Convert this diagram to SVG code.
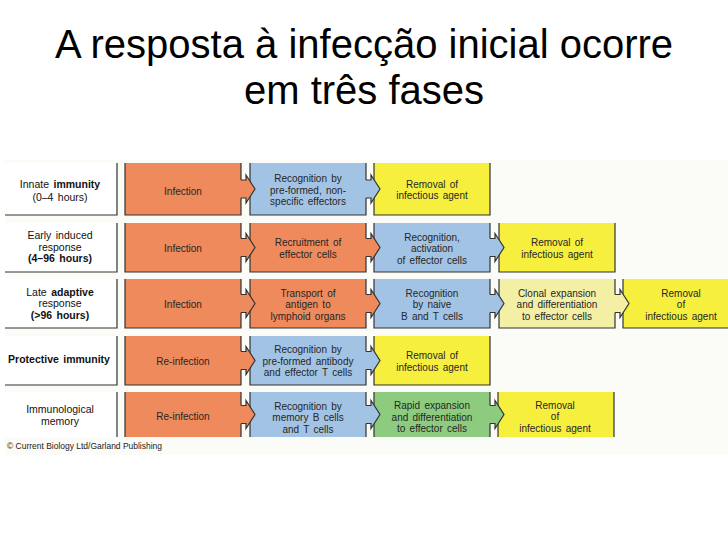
<svg xmlns="http://www.w3.org/2000/svg" width="728" height="546" viewBox="0 0 728 546">
<style>
.title{font-family:"Liberation Sans",Arial,sans-serif;font-size:40px;fill:#000;text-anchor:middle}
.t{font-family:"Liberation Sans",Arial,sans-serif;font-size:10px;fill:#262626;text-anchor:middle;word-spacing:1.5px}
.lb{font-family:"Liberation Sans",Arial,sans-serif;font-size:10.5px;fill:#111;text-anchor:middle;word-spacing:1.5px}
.b{font-weight:bold}
.edge{fill:none;stroke:#333;stroke-width:1.2}
.or{fill:#EF8A5C}.bl{fill:#A2C3E3}.ye{fill:#F6EF3E}.ly{fill:#F3F0A6}.gr{fill:#8DCB7E}.wh{fill:#fff}
.cr{font-family:"Liberation Sans",Arial,sans-serif;font-size:9px;fill:#222}
</style>
<defs>
<g id="arr">
<polygon points="-1.5,-9 5,-9 5,-14 14,0 5,14 5,9 -1.5,9" fill="currentColor"/>
<polyline points="0,-9 5,-9 5,-14 14,0 5,14 5,9 0,9" fill="none" stroke="#333" stroke-width="1.2" stroke-linejoin="miter"/>
</g>
</defs>
<rect width="728" height="546" fill="#fff"/>
<text class="title" x="364" y="58">A resposta à infecção inicial ocorre</text>
<text class="title" x="364" y="104">em três fases</text>
<rect x="5" y="160" width="723" height="295" fill="#fbfbf8"/>

<g id="nodes">
<!-- Row 1 -->
<g id="r1-label"><rect class="wh" x="5" y="163" width="112" height="52"/><path class="edge" d="M5 215H117V163"/>
<text class="lb" x="60" y="188">Innate <tspan class="b">immunity</tspan></text><text class="lb" x="60" y="200.5">(0–4 hours)</text></g>
<g id="r1-c3"><rect class="ye" x="374" y="163" width="116" height="52"/><path class="edge" d="M374 163V215H490V163"/>
<text class="t" x="432" y="187.75">Removal of</text><text class="t" x="432" y="199.25">infectious agent</text></g>
<g id="r1-c2"><rect class="bl" x="250" y="163" width="116" height="52"/><path class="edge" d="M250 163V215H366V163"/>
<text class="t" x="308" y="182">Recognition by</text><text class="t" x="308" y="193.5">pre-formed, non-</text><text class="t" x="308" y="205">specific effectors</text></g>
<g id="r1-c1"><rect class="or" x="125" y="163" width="116" height="52"/><path class="edge" d="M125 163V215H241V163"/>
<text class="t" x="183" y="194.5">Infection</text></g>

<!-- Row 2 -->
<g id="r2-label"><rect class="wh" x="5" y="223" width="112" height="49"/><path class="edge" d="M5 272H117V223"/>
<text class="lb" x="60" y="238.8">Early induced</text><text class="lb" x="60" y="250.5">response</text><text class="lb b" x="60" y="261.5">(4–96 hours)</text></g>
<g id="r2-c4"><rect class="ye" x="499" y="223" width="116" height="49"/><path class="edge" d="M499 223V272H615V223"/>
<text class="t" x="557" y="246.25">Removal of</text><text class="t" x="557" y="257.75">infectious agent</text></g>
<g id="r2-c3"><rect class="bl" x="374" y="223" width="116" height="49"/><path class="edge" d="M374 223V272H490V223"/>
<text class="t" x="432" y="240.5">Recognition,</text><text class="t" x="432" y="252">activation</text><text class="t" x="432" y="263.5">of effector cells</text></g>
<g id="r2-c2"><rect class="or" x="250" y="223" width="116" height="49"/><path class="edge" d="M250 223V272H366V223"/>
<text class="t" x="308" y="246.25">Recruitment of</text><text class="t" x="308" y="257.75">effector cells</text></g>
<g id="r2-c1"><rect class="or" x="125" y="223" width="116" height="49"/><path class="edge" d="M125 223V272H241V223"/>
<text class="t" x="183" y="252">Infection</text></g>

<!-- Row 3 -->
<g id="r3-label"><rect class="wh" x="5" y="279" width="112" height="49"/><path class="edge" d="M5 328H117V279"/>
<text class="lb" x="60" y="295.5">Late <tspan class="b">adaptive</tspan></text><text class="lb" x="60" y="307.3">response</text><text class="lb b" x="60" y="319">(&gt;96 hours)</text></g>
<g id="r3-c5"><rect class="ye" x="623" y="279" width="105" height="49"/><path class="edge" d="M623 279V328H728"/>
<text class="t" x="681" y="296.5">Removal</text><text class="t" x="681" y="308">of</text><text class="t" x="681" y="319.5">infectious agent</text></g>
<g id="r3-c4"><rect class="ly" x="499" y="279" width="116" height="49"/><path class="edge" d="M499 279V328H615V279"/>
<text class="t" x="557" y="296.5">Clonal expansion</text><text class="t" x="557" y="308">and differentiation</text><text class="t" x="557" y="319.5">to effector cells</text></g>
<g id="r3-c3"><rect class="bl" x="374" y="279" width="116" height="49"/><path class="edge" d="M374 279V328H490V279"/>
<text class="t" x="432" y="296.5">Recognition</text><text class="t" x="432" y="308">by naive</text><text class="t" x="432" y="319.5">B and T cells</text></g>
<g id="r3-c2"><rect class="or" x="250" y="279" width="116" height="49"/><path class="edge" d="M250 279V328H366V279"/>
<text class="t" x="308" y="296.5">Transport of</text><text class="t" x="308" y="308">antigen to</text><text class="t" x="308" y="319.5">lymphoid organs</text></g>
<g id="r3-c1"><rect class="or" x="125" y="279" width="116" height="49"/><path class="edge" d="M125 279V328H241V279"/>
<text class="t" x="183" y="308">Infection</text></g>

<!-- Row 4 -->
<g id="r4-label"><rect class="wh" x="5" y="336" width="112" height="49"/><path class="edge" d="M5 385H117V336"/>
<text class="lb b" x="59" y="363">Protective immunity</text></g>
<g id="r4-c3"><rect class="ye" x="374" y="336" width="116" height="49"/><path class="edge" d="M374 336V385H490V336"/>
<text class="t" x="432" y="359.25">Removal of</text><text class="t" x="432" y="370.75">infectious agent</text></g>
<g id="r4-c2"><rect class="bl" x="250" y="336" width="116" height="49"/><path class="edge" d="M250 336V385H366V336"/>
<text class="t" x="308" y="353">Recognition by</text><text class="t" x="308" y="364.5">pre-formed antibody</text><text class="t" x="308" y="376">and effector T cells</text></g>
<g id="r4-c1"><rect class="or" x="125" y="336" width="116" height="49"/><path class="edge" d="M125 336V385H241V336"/>
<text class="t" x="183" y="365">Re-infection</text></g>

<!-- Row 5 -->
<g id="r5-label"><rect class="wh" x="5" y="392" width="112" height="45"/><path class="edge" d="M117 437V392"/>
<text class="lb" x="60" y="413">Immunological</text><text class="lb" x="60" y="424.5">memory</text></g>
<g id="r5-c4"><rect class="ye" x="498" y="392" width="116" height="45"/><path class="edge" d="M498 437V392M614 437V392"/>
<text class="t" x="555" y="408.5">Removal</text><text class="t" x="555" y="420">of</text><text class="t" x="555" y="431.5">infectious agent</text></g>
<g id="r5-c3"><rect class="gr" x="374" y="392" width="116" height="45"/><path class="edge" d="M374 437V392M490 437V392"/>
<text class="t" x="432" y="409">Rapid expansion</text><text class="t" x="432" y="420.5">and differentiation</text><text class="t" x="432" y="432">to effector cells</text></g>
<g id="r5-c2"><rect class="bl" x="250" y="392" width="116" height="45"/><path class="edge" d="M250 437V392M366 437V392"/>
<text class="t" x="308" y="409.5">Recognition by</text><text class="t" x="308" y="421">memory B cells</text><text class="t" x="308" y="432.5">and T cells</text></g>
<g id="r5-c1"><rect class="or" x="125" y="392" width="116" height="45"/><path class="edge" d="M125 437V392M241 437V392"/>
<text class="t" x="183" y="420">Re-infection</text></g>
</g>

<g id="connectors">
<use href="#arr" x="241" y="189" color="#EF8A5C"/>
<use href="#arr" x="366" y="189" color="#A2C3E3"/>
<use href="#arr" x="241" y="247.5" color="#EF8A5C"/>
<use href="#arr" x="366" y="247.5" color="#EF8A5C"/>
<use href="#arr" x="490" y="247.5" color="#A2C3E3"/>
<use href="#arr" x="241" y="303.5" color="#EF8A5C"/>
<use href="#arr" x="366" y="303.5" color="#EF8A5C"/>
<use href="#arr" x="490" y="303.5" color="#A2C3E3"/>
<use href="#arr" x="615" y="303.5" color="#F3F0A6"/>
<use href="#arr" x="241" y="360.5" color="#EF8A5C"/>
<use href="#arr" x="366" y="360.5" color="#A2C3E3"/>
<use href="#arr" x="241" y="414.5" color="#EF8A5C"/>
<use href="#arr" x="366" y="414.5" color="#A2C3E3"/>
<use href="#arr" x="490" y="414.5" color="#8DCB7E"/>
</g>

<text class="cr" x="7" y="449" textLength="155" lengthAdjust="spacingAndGlyphs">© Current Biology Ltd/Garland Publishing</text>
</svg>
